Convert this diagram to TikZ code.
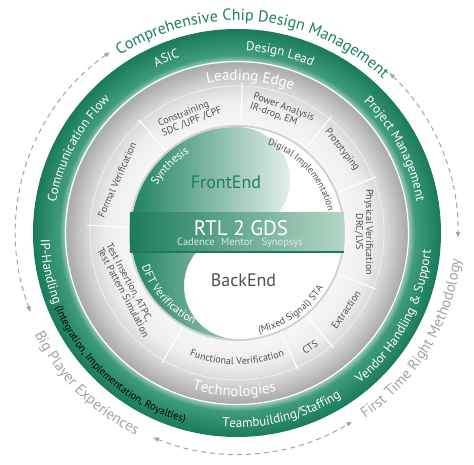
\documentclass[tikz,border=0pt]{standalone}
\usepackage{fontspec}
\setmainfont{PT Sans}
\usetikzlibrary{decorations.text,arrows.meta}
\definecolor{gdark}{HTML}{1A7A5C}
\definecolor{gmid}{HTML}{3F9B7C}
\definecolor{glight}{HTML}{98C8B2}
\definecolor{tgreen}{HTML}{1D7F5F}
\definecolor{tgray}{HTML}{505050}
\definecolor{ogray}{HTML}{A3A3A3}
\definecolor{grA}{HTML}{F6F6F6}
\definecolor{grB}{HTML}{EEEEEE}
\definecolor{grC}{HTML}{D6D6D6}
\definecolor{grD}{HTML}{ABABAB}
\definecolor{bandL}{HTML}{1B7C5C}
\definecolor{bandM}{HTML}{3F9A7B}
\definecolor{bandR}{HTML}{B5D6C7}
\definecolor{yinL}{HTML}{1F8262}
\definecolor{yinR}{HTML}{E4EFE9}
\definecolor{cadence}{HTML}{DCEBE4}
\pgfdeclareradialshading{wheel}{\pgfpoint{0bp}{0bp}}{%
 color(0bp)=(grA); color(13.11bp)=(grA); color(16.18bp)=(grB); color(18.38bp)=(grC);
 color(20.83bp)=(grD); color(21.08bp)=(glight); color(21.81bp)=(gmid); color(25bp)=(gdark); color(50bp)=(gdark)}
\newcommand\cwtext[5]{\path[decorate,decoration={text along path,text align=center,text={|#4|#5}}] ({#1+#3}:#2) arc[start angle={#1+#3},end angle={#1-#3},radius=#2];}
\newcommand\ccwtext[5]{\path[decorate,decoration={text along path,text align=center,text={|#4|#5}}] ({#1-#3}:#2) arc[start angle={#1-#3},end angle={#1+#3},radius=#2];}
\newcommand\fsz[1]{\fontsize{#1}{#1}\selectfont}
\tikzset{
 segtext/.style={text=tgray,font=\fsz{10},inner sep=0pt,align=#1},
 segtext/.default=center,
 dasharc/.style={ogray,line width=1pt,dash pattern=on 5pt off 4pt,{Latex[length=6pt,width=5pt]}-{Latex[length=6pt,width=5pt]}},
 divider/.style={white,line width=1.1pt}
}
\begin{document}
\begin{tikzpicture}[x=1pt,y=1pt]
\useasboundingbox (-237,-232) rectangle (237,233);
% wheel
\shade[shading=wheel] (0,0) circle (204);
\draw[white,line width=1.2pt] (0,0) circle (171.5);
\draw[white,opacity=0.6,line width=0.8pt] (0,0) circle (147);
\foreach \a in {88,131,51,22,-22,-50,-66,240,177} \draw[divider] (\a:108) -- (\a:150);
% inner disc
\draw[black!18,line width=2pt] (0,0) circle (107);
\begin{scope}
\clip (0,0) circle (106);
\fill[white] (0,0) circle (106);
\shade[left color=yinL,right color=yinR] (90:106) arc[start angle=90,end angle=270,radius=106] arc[start angle=270,end angle=90,radius=53] arc[start angle=-90,end angle=90,radius=53] -- cycle;
\end{scope}
\shade[left color=bandL,middle color=bandM,right color=bandR] (-107,-19) rectangle (107,20);
\draw[gdark,line width=1.2pt] (-107,-19) -- (107,-19);
\node[text=white,font=\fsz{21},inner sep=0pt] (rtl) at (4,4.5) {RTL 2 GDS};
\node[text=cadence,font=\fsz{10.5},inner sep=0pt] (tools) at (3,-10) {Cadence\hspace{0.6em}Mentor\hspace{0.8em}Synopsys};
\node[text=tgreen,font=\fsz{18},inner sep=0pt] (fe) at (-11,51) {FrontEnd};
\node[text=tgray,font=\fsz{18},inner sep=0pt] (be) at (6.5,-47) {BackEnd};
% inner disc curved texts
\cwtext{42}{93.7}{70}{\fsz{9.5}\color{tgray}}{Digital Implementation}
\cwtext{135}{93}{40}{\fsz{11.5}\color{white}}{Synthesis}
\ccwtext{222}{101}{50}{\fsz{11.5}\color{white}}{DFT Verification}
\ccwtext{305}{102.5}{50}{\fsz{10}\color{tgray}}{(Mixed Signal) STA}
% segment texts
\ccwtext{270}{131.5}{40}{\fsz{10}\color{tgray}}{Functional Verification}
\node[segtext=left,rotate=22] (con) at (-47,116) {Constraining\\SDC /UPF /CPF};
\node[segtext=left,rotate=-20] (pow) at (45,121) {Power Analysis\\IR-drop, EM};
\node[segtext,rotate=-52] (pro) at (105,83) {Prototyping};
\node[segtext,rotate=-90] (phy) at (127,1) {Physical Verification\\DRC/LVS};
\node[segtext,rotate=55] (ext) at (109,-77) {Extraction};
\node[segtext,rotate=33] (cts) at (73,-114) {CTS};
\node[segtext=left,rotate=-62] (tst) at (-109,-57) {Test Insertion, ATPC,\\Test Pattern Simulation};
\node[segtext,rotate=66] (frm) at (-120,53) {Formal Verification};
% gray ring texts
\cwtext{85}{152.8}{60}{\fsz{15}\color{white}}{Leading Edge}
\ccwtext{269}{163.2}{60}{\fsz{15}\color{white}}{Technologies}
% green ring texts
\cwtext{112}{184.5}{20}{\fsz{13}\color{white}}{ASIC}
\cwtext{76.5}{182.5}{30}{\fsz{13}\color{white}}{Design Lead}
\cwtext{28}{182.5}{40}{\fsz{13}\color{white}}{Project Management}
\cwtext{152}{183.5}{40}{\fsz{13}\color{white}}{Communication Flow}
\ccwtext{284}{194.5}{40}{\fsz{13}\color{white}}{Teambuilding/Staffing}
\ccwtext{332}{194.5}{40}{\fsz{13}\color{white}}{Vendor Handling {\&} Support}
\path[decorate,decoration={text along path,text={|\fsz{13}\color{white}|IP-Handling |\fsz{10.5}|(Integration, Implementation, Royalties)}}] (182:196.5) arc[start angle=182,end angle=275,radius=196.5];
% outer texts
\cwtext{85}{212.4}{80}{\fsz{16}\color{tgreen}}{Comprehensive Chip Design Management}
\ccwtext{225}{226.2}{40}{\fsz{15}\color{ogray}}{Big Player Experiences}
\ccwtext{329}{225.2}{40}{\fsz{15}\color{ogray}}{First Time Right Methodology}
% dashed arrows
\draw[dasharc] (125:221) arc[start angle=125,end angle=201,radius=221];
\draw[dasharc] (46.5:221) arc[start angle=46.5,end angle=-1.3,radius=221];
\draw[dasharc] (247.6:221) arc[start angle=247.6,end angle=301.5,radius=221];
\end{tikzpicture}
\end{document}
